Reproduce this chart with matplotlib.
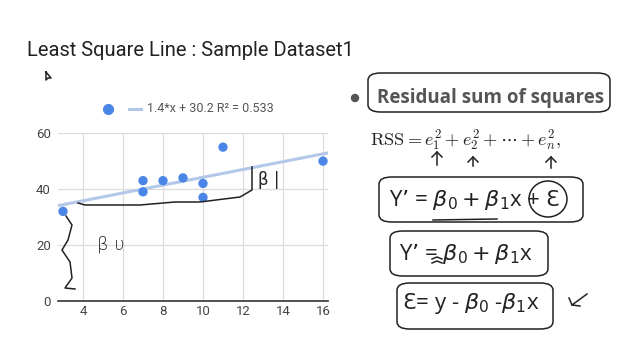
import matplotlib
matplotlib.use("Agg")
import matplotlib.pyplot as plt
from matplotlib.patches import FancyBboxPatch, Ellipse
from matplotlib.lines import Line2D
import numpy as np

# ---- data ----
x_vals = [3, 7, 7, 8, 9, 10, 10, 11, 16]
y_vals = [32, 43, 39, 43, 44, 42, 37, 55, 50]
slope = 1.4
intercept = 30.2
r2 = 0.533
x_ticks = [4, 6, 8, 10, 12, 14, 16]
y_ticks = [0, 20, 40, 60]

W, H = 640, 360
fig = plt.figure(figsize=(6.4, 3.6), dpi=100)
fig.patch.set_facecolor("white")

def P(x, y):
    return (x / W, 1 - y / H)

def circ(cx, cy, rx, ry=None, **kw):
    ry = rx if ry is None else ry
    fig.add_artist(Ellipse(P(cx, cy), 2 * rx / W, 2 * ry / H,
                           transform=fig.transFigure, **kw))

# ---- chart ----
ax = fig.add_axes([58 / W, 1 - 300.7 / H, 270 / W, 167.5 / H])
ax.set_xlim(2.75, 16.25)
ax.set_ylim(0, 60)
ax.set_xticks(x_ticks)
ax.set_yticks(y_ticks)
ax.grid(True, color="#dcdcdc", linewidth=0.9)
ax.set_axisbelow(True)
for s in ["top", "right", "left"]:
    ax.spines[s].set_visible(False)
ax.spines["bottom"].set_color("#333333")
ax.spines["bottom"].set_linewidth(1.2)
ax.tick_params(length=0, labelsize=9.5, colors="#444444", pad=3)
ax.tick_params(axis="y", pad=5)
for lbl in ax.get_xticklabels() + ax.get_yticklabels():
    lbl.set_family("Roboto")
xl = np.array([2.75, 16.25])
ax.plot(xl, slope * xl + intercept, color="#b3c8e8", lw=2.2, zorder=2)
ax.scatter(x_vals, y_vals, s=45, color="#4a86e8", zorder=3, edgecolors="none")

# legend
fig.add_artist(Line2D([P(108, 0)[0]], [P(0, 109)[1]], marker="o", markersize=7,
                      color="#4a86e8", linestyle="none"))
fig.add_artist(Line2D([P(129, 0)[0], P(141, 0)[0]], [P(0, 109)[1]] * 2,
                      color="#b3c8e8", lw=2.2))
fig.text(*P(147, 109), f"{slope}*x + {intercept} R² = {r2}", fontsize=9,
         color="#555555", va="center", ha="left", family="Roboto")

# title
fig.text(*P(27, 50), "Least Square Line : Sample Dataset1", fontsize=14.5,
         color="#222222", va="center", ha="left", family="Roboto")

# right side
circ(355, 98, 3.5, color="#555555")
fig.text(*P(377, 98), "Residual sum of squares", fontsize=13.5,
         fontweight="bold", color="#555555", va="center", ha="left",
         family="Open Sans")
fig.text(*P(370, 140), r"$\mathrm{RSS} = e_1^2 + e_2^2 + \cdots + e_n^2,$",
         fontsize=13.2, color="#222222", va="center", ha="left",
         math_fontfamily="cm")

eq_kw = dict(fontsize=16, color="#222222", va="center", ha="left",
             family=["Open Sans", "DejaVu Sans"], math_fontfamily="dejavusans")
fig.text(*P(389, 200), r"Y’ = $\beta_0 + \beta_1$x + $\mathrm{Ɛ}$", **eq_kw)
fig.text(*P(399, 253), r"Y’ = $\beta_0 + \beta_1$x", **eq_kw)
fig.text(*P(402, 304), r"$\mathrm{Ɛ}$= y - $\beta_0$ -$\beta_1$x", **eq_kw)

# handwritten-style annotations
ink = dict(color="#222222", lw=1.1, transform=fig.transFigure)
def stroke(pts):
    xs = [p[0] / W for p in pts]
    ys = [1 - p[1] / H for p in pts]
    fig.add_artist(Line2D(xs, ys, **ink))

for (x0, y0, x1, y1) in [(368, 73, 610, 112), (379, 177, 583, 222),
                         (390, 231, 548, 276), (397, 283, 553, 329)]:
    fig.add_artist(FancyBboxPatch((x0 / W, 1 - y1 / H), (x1 - x0) / W,
                                  (y1 - y0) / H,
                                  boxstyle="round,pad=0,rounding_size=0.02",
                                  transform=fig.transFigure, fill=False,
                                  ec="#222222", lw=1.1))
# circle around epsilon
circ(548, 199, 19, 18, fill=False, ec="#222222", lw=1.1)
# underline in first box
stroke([(433, 220), (497, 219)])
# marks under '=' in box 2
stroke([(432, 259), (437, 257), (442, 259)])
stroke([(432, 263), (437, 261), (442, 263)])
# arrows under RSS terms
for ax_, top, bot in [(437, 152, 165), (473, 157, 166), (551, 157, 168)]:
    stroke([(ax_, bot), (ax_, top)])
    stroke([(ax_ - 5, top + 5), (ax_, top), (ax_ + 5, top + 5)])
# check mark
stroke([(587, 294), (572, 305), (580, 306)])
stroke([(572, 305), (569, 298)])
# beta0 brace
stroke([(66, 216), (72, 225), (68, 240), (62, 250), (70, 262), (72, 278),
        (65, 288), (75, 289)])
fig.text(*P(97, 245), "β υ", fontsize=13, color="#222222", va="center",
         ha="left", family="DejaVu Sans", fontweight="light")
# beta1 bracket
stroke([(78, 203), (85, 205), (140, 205), (175, 202), (200, 202),
        (240, 197), (252, 190), (252, 167)])
fig.text(*P(258, 180), "β |", fontsize=12, color="#222222", va="center",
         ha="left", family="DejaVu Sans")
# cursor
stroke([(46, 72), (46, 80), (48, 78), (51, 78), (46, 72)])

fig.savefig("out.png", dpi=100, facecolor="white")
